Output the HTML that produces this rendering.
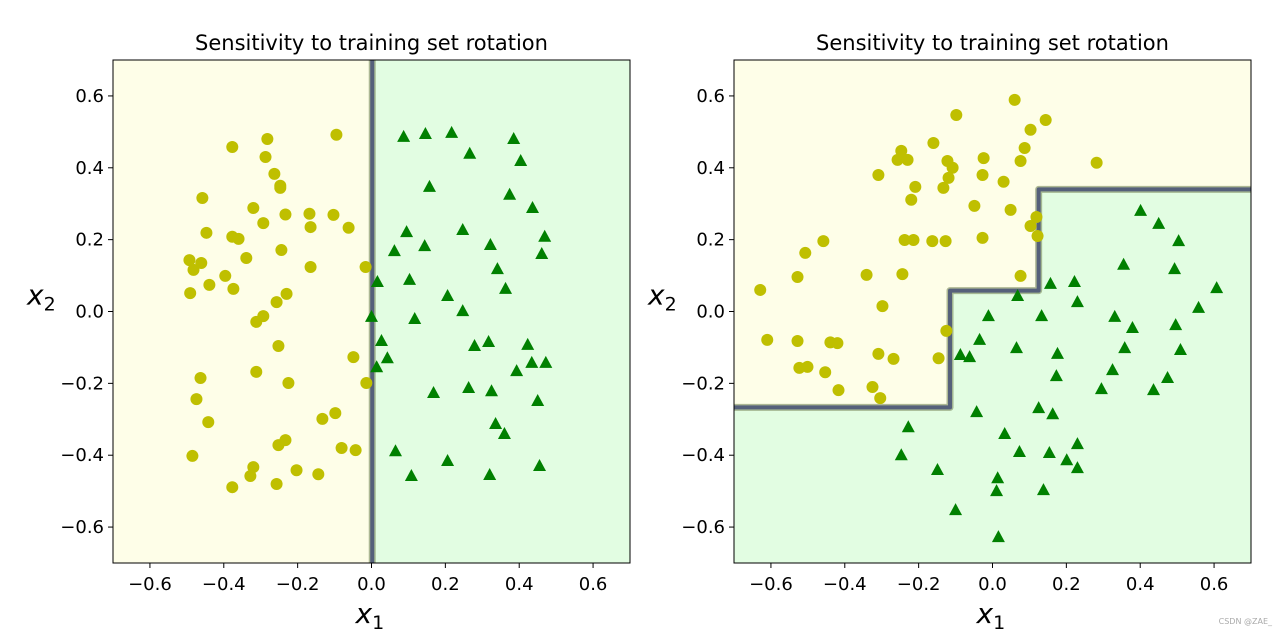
<!DOCTYPE html>
<html><head><meta charset="utf-8"><style>
html,body{margin:0;padding:0;background:#fff;}
svg{display:block;font-family:"DejaVu Sans","Liberation Sans",sans-serif;}
</style></head><body>
<svg id="fig" width="1288" height="635" viewBox="0 0 1288 635"></svg>
<script>
const leftYellowX=[-0.377,-0.282,-0.095,-0.458,-0.287,-0.263,-0.247,-0.247,-0.320,-0.168,-0.103,-0.233,-0.447,-0.377,-0.360,-0.062,-0.165,-0.293,-0.339,-0.493,-0.482,-0.461,-0.244,-0.396,-0.165,-0.439,-0.374,-0.230,-0.491,-0.257,-0.293,-0.312,-0.016,-0.252,-0.049,-0.312,-0.014,-0.225,-0.463,-0.474,-0.442,-0.133,-0.098,-0.081,-0.043,-0.233,-0.252,-0.203,-0.144,-0.320,-0.328,-0.257,-0.377,-0.485];
const leftYellowY=[0.458,0.480,0.492,0.316,0.430,0.383,0.350,0.344,0.288,0.272,0.269,0.270,0.219,0.208,0.202,0.233,0.235,0.246,0.149,0.143,0.116,0.135,0.171,0.099,0.124,0.074,0.063,0.049,0.051,0.026,-0.013,-0.029,0.124,-0.096,-0.127,-0.168,-0.199,-0.199,-0.185,-0.244,-0.308,-0.299,-0.283,-0.380,-0.386,-0.358,-0.372,-0.442,-0.453,-0.433,-0.458,-0.480,-0.489,-0.402];
const leftGreenX=[0.087,0.146,0.217,0.266,0.385,0.404,0.157,0.374,0.436,0.469,0.461,0.247,0.322,0.144,0.062,0.095,0.341,0.363,0.016,0.103,0.206,0.247,0.117,0.000,0.279,0.317,0.423,0.027,0.043,0.014,0.434,0.472,0.393,0.263,0.168,0.325,0.450,0.336,0.360,0.065,0.206,0.108,0.320,0.455];
const leftGreenY=[0.486,0.494,0.497,0.439,0.480,0.419,0.347,0.325,0.288,0.208,0.160,0.227,0.185,0.182,0.168,0.221,0.118,0.063,0.082,0.088,0.043,0.001,-0.021,-0.015,-0.096,-0.085,-0.093,-0.082,-0.130,-0.155,-0.143,-0.143,-0.166,-0.213,-0.227,-0.222,-0.249,-0.313,-0.341,-0.389,-0.416,-0.458,-0.455,-0.430];
const rightYellowX=[-0.629,-0.610,-0.507,-0.528,-0.458,-0.098,0.060,0.144,0.103,0.087,-0.160,-0.247,-0.257,-0.230,-0.122,-0.108,-0.119,-0.309,-0.209,-0.133,0.282,0.030,-0.027,-0.024,0.076,-0.220,-0.049,0.049,0.119,0.103,0.122,-0.238,-0.214,-0.163,-0.127,-0.027,-0.341,-0.244,0.076,-0.298,-0.528,-0.501,-0.523,-0.439,-0.420,-0.453,-0.417,-0.325,-0.309,-0.268,-0.304,-0.146,-0.125];
const rightYellowY=[0.060,-0.079,0.163,0.096,0.196,0.547,0.589,0.533,0.506,0.455,0.469,0.447,0.422,0.422,0.419,0.400,0.372,0.380,0.347,0.344,0.414,0.361,0.380,0.427,0.419,0.311,0.294,0.283,0.263,0.238,0.210,0.199,0.199,0.196,0.196,0.205,0.102,0.104,0.099,0.015,-0.082,-0.154,-0.157,-0.086,-0.088,-0.169,-0.219,-0.210,-0.118,-0.132,-0.241,-0.130,-0.054];
const rightGreenX=[0.068,0.157,0.222,0.230,-0.087,-0.011,-0.035,0.133,-0.062,0.065,0.176,0.173,0.331,0.379,0.358,0.401,0.450,0.504,0.607,0.558,0.493,0.496,0.509,0.355,0.325,0.295,0.436,0.474,0.125,0.163,0.154,0.201,0.230,0.230,-0.043,0.033,0.073,-0.149,-0.228,-0.247,0.014,0.011,0.138,-0.100,0.016];
const rightGreenY=[0.043,0.077,0.082,0.026,-0.121,-0.013,-0.079,-0.013,-0.127,-0.102,-0.118,-0.180,-0.015,-0.046,-0.102,0.280,0.244,0.196,0.065,0.010,0.118,-0.038,-0.107,0.130,-0.163,-0.216,-0.219,-0.185,-0.269,-0.286,-0.394,-0.414,-0.369,-0.436,-0.280,-0.341,-0.391,-0.441,-0.322,-0.400,-0.464,-0.500,-0.497,-0.553,-0.628];
const leftBoundaryX=[0.002,0.002];
const leftBoundaryY=[-0.7,0.7];
const rightBoundaryX=[-0.7,-0.115,-0.115,0.125,0.125,0.7];
const rightBoundaryY=[-0.267,-0.267,0.058,0.058,0.34,0.34];
const tickVals=[-0.6,-0.4,-0.2,0.0,0.2,0.4,0.6];
const tickLabels=["\u22120.6","\u22120.4","\u22120.2","0.0","0.2","0.4","0.6"];

const NS="http://www.w3.org/2000/svg";
const svg=document.getElementById('fig');
function mk(tag,attrs,parent){const e=document.createElementNS(NS,tag);for(const k in attrs)e.setAttribute(k,attrs[k]);(parent||svg).appendChild(e);return e;}

function panel(L,R,T,B,yx,yy,gx,gy,bx,by,isRight,name){
  const g=mk('g',{});
  
  
  const sx=v=>L+(v+0.7)/1.4*(R-L);
  const sy=v=>B-(v+0.7)/1.4*(B-T);
  const ybg=mk('rect',{x:L,y:T,width:R-L,height:B-T,fill:'#fefee8'},g);
  
  
  let pts=[];
  if(!isRight){
    pts=[[sx(bx[0]),sy(0.7)],[R,sy(0.7)],[R,sy(-0.7)],[sx(bx[0]),sy(-0.7)]];
  } else {
    pts.push([L,B]);
    for(let i=0;i<bx.length;i++)pts.push([sx(bx[i]),sy(by[i])]);
    pts.push([R,B]);
  }
  const gbg=mk('polygon',{points:pts.map(p=>p.join(',')).join(' '),fill:'#e2fde2'},g);
  
  
  const bp=bx.map((v,i)=>sx(v)+','+sy(by[i])).join(' ');
  mk('polyline',{points:bp,fill:'none',stroke:'#8a9a70',"stroke-width":7,"stroke-linejoin":"round","stroke-opacity":0.7},g);
  const bl=mk('polyline',{points:bp,fill:'none',stroke:'#55607a',"stroke-width":4,"stroke-linejoin":"round"},g);
  
  
  for(let i=0;i<yx.length;i++){
    const c=mk('circle',{cx:sx(yx[i]),cy:sy(yy[i]),r:6,fill:'#bfbf00'},g);
    
    
  }
  for(let i=0;i<gx.length;i++){
    const x=sx(gx[i]),y=sy(gy[i]);
    const t=mk('polygon',{points:`${x},${y-7} ${x-6.5},${y+5} ${x+6.5},${y+5}`,fill:'#008000'},g);
    
    
  }
  const fr=mk('rect',{x:L,y:T,width:R-L,height:B-T,fill:'none',stroke:'#000',"stroke-width":1},g);
  
  
  tickVals.forEach((v,i)=>{
    const x=sx(v);
    mk('line',{x1:x,y1:B,x2:x,y2:B+5,stroke:'#000'},g);
    const tx=mk('text',{x:x,y:B+27,"font-size":18,"text-anchor":"middle",fill:'#000'},g);
    tx.textContent=tickLabels[i];
    
    
    const y=sy(v);
    mk('line',{x1:L-5,y1:y,x2:L,y2:y,stroke:'#000'},g);
    const ty=mk('text',{x:L-9,y:y+6,"font-size":18,"text-anchor":"end",fill:'#000'},g);
    ty.textContent=tickLabels[i];
    
    
  });
  const ti=mk('text',{x:(L+R)/2,y:T-10,"font-size":21,"text-anchor":"middle",fill:'#000'},g);
  ti.textContent='Sensitivity to training set rotation';
  
  
  const xl=mk('text',{x:(L+R)/2-16,y:B+60,"font-size":28,"font-style":"italic",fill:'#000'},g);
  xl.innerHTML='x<tspan font-size="19" font-style="normal" dy="6">1</tspan>';
  
  
  const yl=mk('text',{x:L-86,y:sy(0)-7,"font-size":28,"font-style":"italic",fill:'#000'},g);
  yl.innerHTML='x<tspan font-size="19" font-style="normal" dy="6">2</tspan>';
  
  
}
panel(113,630,60,563,leftYellowX,leftYellowY,leftGreenX,leftGreenY,leftBoundaryX,leftBoundaryY,false,'left-panel');
panel(734,1251,60,563,rightYellowX,rightYellowY,rightGreenX,rightGreenY,rightBoundaryX,rightBoundaryY,true,'right-panel');
const wm=mk('text',{x:1272,y:624,"font-size":8,"text-anchor":"end",fill:'#aaa'});
wm.textContent='CSDN @ZAE_';


</script>
</body></html>
